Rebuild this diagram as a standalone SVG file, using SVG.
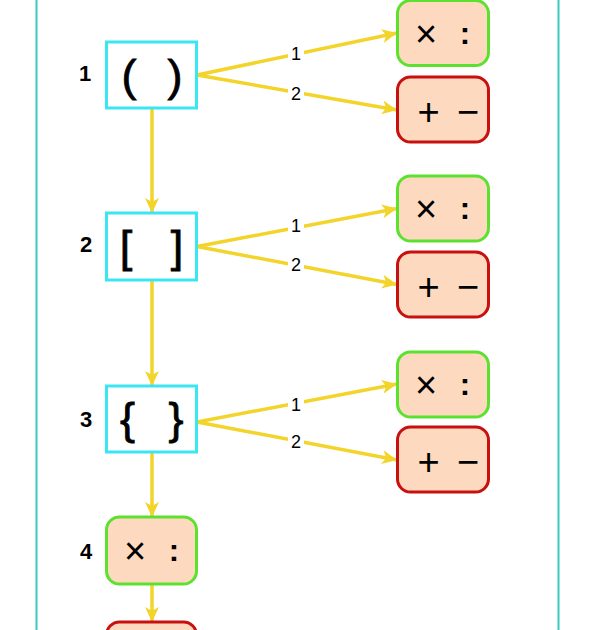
<svg xmlns="http://www.w3.org/2000/svg" width="595" height="630" viewBox="0 0 595 630">
<style>
.frame{stroke:#3cc8be;stroke-width:2;fill:none}
.sq{fill:#fff;stroke:#3ae6f2;stroke-width:3}
.ok{fill:#fcd9bf;stroke:#5ce22e;stroke-width:3}
.bad{fill:#fcd9bf;stroke:#c8100e;stroke-width:3}
.br{font-family:"Liberation Sans",Arial,sans-serif;font-size:45px;fill:#000;text-anchor:middle;stroke:#000;stroke-width:0.8}
.op{font-family:"Liberation Sans",Arial,sans-serif;font-size:38px;fill:#000;text-anchor:middle}
.col{font-size:31px;font-weight:bold}
.num{font-family:"Liberation Sans",Arial,sans-serif;font-size:22px;font-weight:bold;fill:#000;text-anchor:middle}
.el{font-family:"Liberation Sans",Arial,sans-serif;font-size:18px;fill:#000;text-anchor:middle}
.e{stroke:#f2d42a;stroke-width:3.5;fill:none;marker-end:url(#ah)}
.lb{fill:#fff}
</style>
<defs>
<marker id="ah" markerUnits="userSpaceOnUse" markerWidth="16" markerHeight="14" refX="15" refY="7" orient="auto">
<path d="M0,0 L15,7 L0,14 L4,7 Z" fill="#f2d42a"/>
</marker>
</defs>
<rect width="595" height="630" fill="#fff"/>
<line class="frame" x1="36.5" y1="0" x2="36.5" y2="630"/>
<line class="frame" x1="558.5" y1="0" x2="558.5" y2="630"/>

<g id="connectors">
<path class="e" d="M152,108 L152,213"/>
<path class="e" d="M152,280 L152,386"/>
<path class="e" d="M152,452 L152,517"/>
<path class="e" d="M152,584 L152,622"/>
<path class="e" d="M197,75 L397,33"/>
<path class="e" d="M197,75 L397,110"/>
<path class="e" d="M197,246.5 L397,208.5"/>
<path class="e" d="M197,246.5 L397,284.5"/>
<path class="e" d="M197,422 L397,384"/>
<path class="e" d="M197,422 L397,460"/>
<rect class="lb" x="288" y="44" width="16" height="19"/>
<text class="el" x="296" y="60">1</text>
<rect class="lb" x="288" y="84" width="16" height="19"/>
<text class="el" x="296" y="100">2</text>
<rect class="lb" x="288" y="216" width="16" height="19"/>
<text class="el" x="296" y="232">1</text>
<rect class="lb" x="288" y="255" width="16" height="19"/>
<text class="el" x="296" y="271">2</text>
<rect class="lb" x="288" y="395" width="16" height="19"/>
<text class="el" x="296" y="411">1</text>
<rect class="lb" x="288" y="432" width="16" height="19"/>
<text class="el" x="296" y="448">2</text>
</g>

<g id="n1">
<rect class="sq" x="106.5" y="42" width="90" height="66"/>
<text class="br" x="129 152 175" y="91">( )</text>
<text class="num" x="85" y="81">1</text>
</g>
<g id="n2">
<rect class="sq" x="106.5" y="213" width="90" height="67"/>
<text class="br" x="126 152 177" y="262">[ ]</text>
<text class="num" x="86" y="252">2</text>
</g>
<g id="n3">
<rect class="sq" x="106.5" y="386" width="90" height="66"/>
<text class="br" x="127.5 152 176" y="434">{ }</text>
<text class="num" x="86" y="427">3</text>
</g>
<g id="n4">
<rect class="ok" x="106.5" y="517" width="90" height="67" rx="13"/>
<text class="op" x="135 155" y="564">× <tspan class="col" x="174" y="561">:</tspan></text>
<text class="num" x="86" y="559">4</text>
</g>
<g id="n5">
<rect class="bad" x="106.5" y="622" width="90" height="66" rx="13"/>
</g>

<g id="r1a">
<rect class="ok" x="397.5" y="0.5" width="91" height="65" rx="13"/>
<text class="op" x="426 445" y="47">× <tspan class="col" x="465" y="43.5">:</tspan></text>
</g>
<g id="r1b">
<rect class="bad" x="397.5" y="77" width="91" height="65" rx="13"/>
<text class="op" x="428.5 448 468" y="125">+ −</text>
</g>
<g id="r2a">
<rect class="ok" x="397.5" y="176" width="91" height="65" rx="13"/>
<text class="op" x="426 445" y="222">× <tspan class="col" x="465" y="218.5">:</tspan></text>
</g>
<g id="r2b">
<rect class="bad" x="397.5" y="252" width="91" height="65" rx="13"/>
<text class="op" x="428.5 448 468" y="300">+ −</text>
</g>
<g id="r3a">
<rect class="ok" x="397.5" y="352" width="91" height="65" rx="13"/>
<text class="op" x="426 445" y="398">× <tspan class="col" x="465" y="394.5">:</tspan></text>
</g>
<g id="r3b">
<rect class="bad" x="397.5" y="427" width="91" height="65" rx="13"/>
<text class="op" x="428.5 448 468" y="475">+ −</text>
</g>
</svg>
